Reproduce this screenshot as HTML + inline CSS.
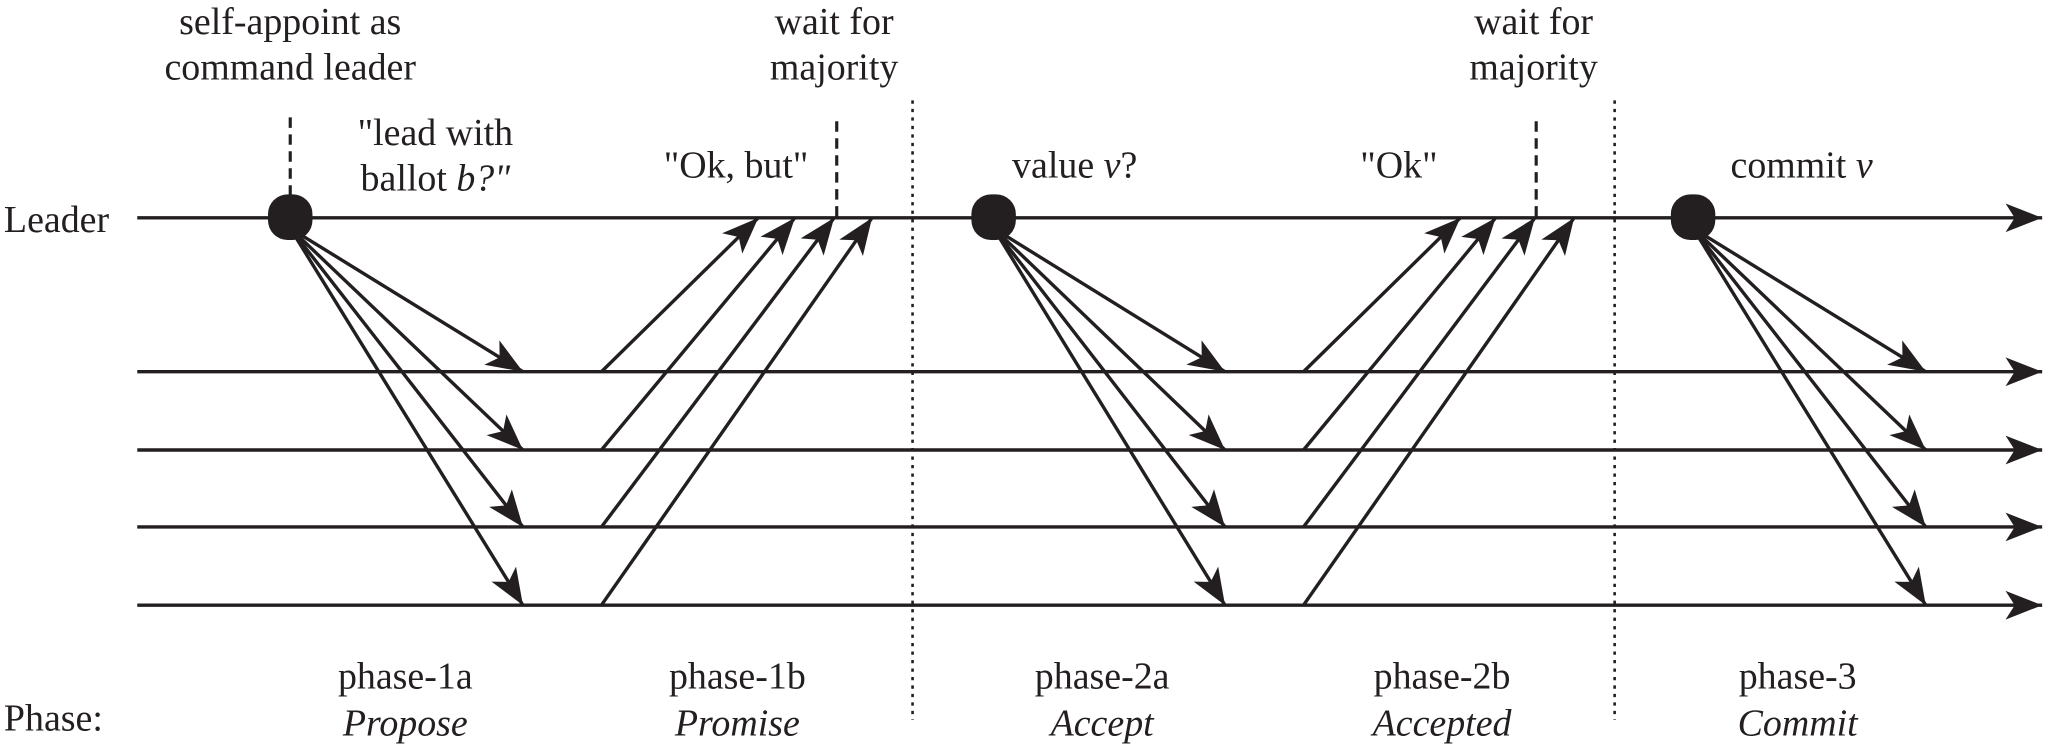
<!DOCTYPE html>
<html><head><style>html,body{margin:0;padding:0;background:#fff;}svg{display:block}text{font-family:"Liberation Serif","Times New Roman",Times,"DejaVu Serif",serif;font-size:29px;fill:#231f20}</style></head>
<body>
<svg width="2050" height="750" viewBox="0 0 1568 575" preserveAspectRatio="none" xmlns="http://www.w3.org/2000/svg" font-family="'Liberation Serif', 'DejaVu Serif', serif">
<defs>
<marker id="a" markerUnits="userSpaceOnUse" markerWidth="34" markerHeight="28" refX="28" refY="14" orient="auto">
<path d="M0,3 L28,14 L0,25 L7,14 Z" fill="#231f20"/>
</marker>
</defs>
<g stroke="#231f20" stroke-width="2.6" fill="none" marker-end="url(#a)">
<line x1="105" y1="167" x2="1562" y2="167"/>
<line x1="105" y1="285" x2="1562" y2="285"/>
<line x1="105" y1="345" x2="1562" y2="345"/>
<line x1="105" y1="404" x2="1562" y2="404"/>
<line x1="105" y1="464" x2="1562" y2="464"/>
<line x1="222" y1="175" x2="400" y2="285"/>
<line x1="222" y1="175" x2="400" y2="345"/>
<line x1="222" y1="175" x2="400" y2="404"/>
<line x1="222" y1="175" x2="400" y2="464"/>
<line x1="460" y1="285" x2="580" y2="167"/>
<line x1="460" y1="345" x2="608" y2="167"/>
<line x1="460" y1="404" x2="638" y2="167"/>
<line x1="460" y1="464" x2="667" y2="167"/>
<line x1="760" y1="175" x2="937" y2="285"/>
<line x1="760" y1="175" x2="937" y2="345"/>
<line x1="760" y1="175" x2="937" y2="404"/>
<line x1="760" y1="175" x2="937" y2="464"/>
<line x1="997" y1="285" x2="1117" y2="167"/>
<line x1="997" y1="345" x2="1144" y2="167"/>
<line x1="997" y1="404" x2="1174" y2="167"/>
<line x1="997" y1="464" x2="1204" y2="167"/>
<line x1="1295" y1="175" x2="1473" y2="285"/>
<line x1="1295" y1="175" x2="1473" y2="345"/>
<line x1="1295" y1="175" x2="1473" y2="404"/>
<line x1="1295" y1="175" x2="1473" y2="464"/>
</g>
<g stroke="#231f20" stroke-width="2.4">
<line x1="222" y1="90" x2="222" y2="152" stroke-dasharray="8,5"/>
<line x1="640" y1="93" x2="640" y2="167" stroke-dasharray="8,5"/>
<line x1="1175" y1="93" x2="1175" y2="167" stroke-dasharray="8,5"/>
<line x1="698" y1="77" x2="698" y2="552" stroke-dasharray="2.5,4" stroke-width="2"/>
<line x1="1235" y1="77" x2="1235" y2="552" stroke-dasharray="2.5,4" stroke-width="2"/>
</g>
<rect x="205" y="149" width="34" height="35" rx="15" fill="#231f20"/>
<rect x="743" y="149" width="34" height="35" rx="15" fill="#231f20"/>
<rect x="1278" y="149" width="34" height="35" rx="15" fill="#231f20"/>
<g text-anchor="middle">
<text x="222" y="26">self-appoint as</text>
<text x="222" y="61">command leader</text>
<text x="638" y="26">wait for</text>
<text x="638" y="61">majority</text>
<text x="1173" y="26">wait for</text>
<text x="1173" y="61">majority</text>
<text x="333" y="111">"lead with</text>
<text x="333" y="146">ballot <tspan font-style="italic">b?"</tspan></text>
<text x="563" y="136">"Ok, but"</text>
<text x="822" y="136">value <tspan font-style="italic">v</tspan>?</text>
<text x="1070" y="136">"Ok"</text>
<text x="1378" y="136">commit <tspan font-style="italic">v</tspan></text>
<text x="310" y="528">phase-1a</text>
<text x="310" y="564" font-style="italic">Propose</text>
<text x="564" y="528">phase-1b</text>
<text x="564" y="564" font-style="italic">Promise</text>
<text x="843" y="528">phase-2a</text>
<text x="843" y="564" font-style="italic">Accept</text>
<text x="1103" y="528">phase-2b</text>
<text x="1103" y="564" font-style="italic">Accepted</text>
<text x="1375" y="528">phase-3</text>
<text x="1375" y="564" font-style="italic">Commit</text>
</g>
<text x="3" y="178">Leader</text>
<text x="3" y="560">Phase:</text>
</svg>
</body></html>
